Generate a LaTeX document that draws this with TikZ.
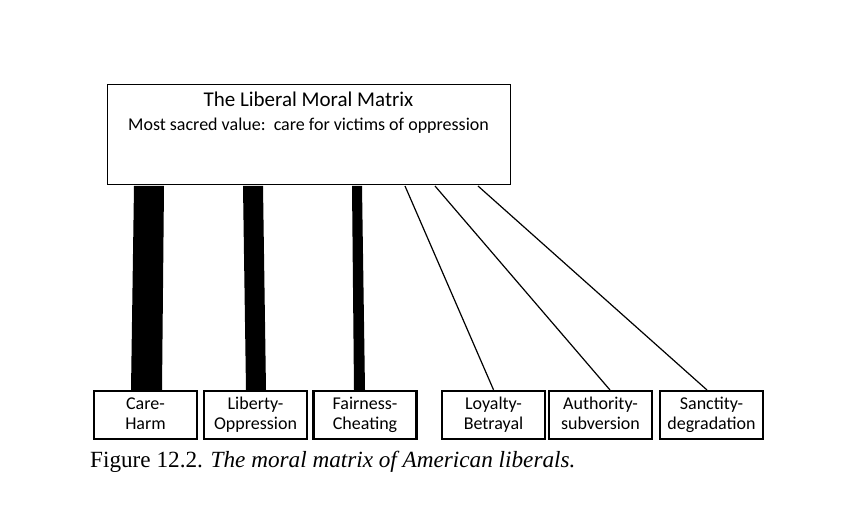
\documentclass[tikz,border=0pt]{standalone}
\usepackage{fontspec}
\setmainfont{Carlito}
\newfontfamily\capfont{Liberation Serif}
\newcommand{\twol}[2]{\strut #1\\\strut #2}
\begin{document}
\begin{tikzpicture}[x=1pt,y=-1pt,
  fbox/.style={draw,line width=2.5pt,minimum width=103pt,minimum height=48pt,align=center,font=\fontsize{18}{20}\selectfont,inner sep=0pt},
  bar/.style={fill=black},
  thin/.style={line width=1.2pt}]
\useasboundingbox (0,0) rectangle (862,505);
\node[draw,line width=0.8pt,minimum width=403pt,minimum height=100pt,inner sep=0pt] (top) at (308.5,134) {};
\node (t1) at (308.5,102) {\fontsize{21}{24}\selectfont\strut The Liberal Moral Matrix};
\node (t2) at (308.5,126) {\fontsize{18}{21}\selectfont\strut Most sacred value:\ \ care for victims of oppression};
\node[fbox] (b1) at (145.5,415) {\twol{Care-}{Harm}};
\node[fbox] (b2) at (255.5,415) {\twol{Liberty-}{Oppression}};
\node[fbox] (b3) at (365,415) {\twol{Fairness-}{Cheating}};
\node[fbox] (b4) at (493.5,415) {\twol{Loyalty-}{Betrayal}};
\node[fbox] (b5) at (600.5,415) {\twol{Authority-}{subversion}};
\node[fbox] (b6) at (711.5,415) {\twol{Sanctity-}{degradation}};
\fill[bar] (134,186) -- (164,186) -- (162,390) -- (131,390) -- cycle;
\fill[bar] (243,186) -- (263,186) -- (266,390) -- (246,390) -- cycle;
\fill[bar] (352,186) -- (362,186) -- (365,390) -- (354,390) -- cycle;
\draw[thin] (405,186) -- (b4.north);
\draw[thin] (435,186) -- (610,390);
\draw[thin] (478,186) -- (707,390);
\node[anchor=west,inner sep=0pt] (cap) at (90,462) {\capfont\fontsize{23.2}{26}\selectfont Figure 12.2. \textit{The moral matrix of American liberals.}};
\end{tikzpicture}
\end{document}
